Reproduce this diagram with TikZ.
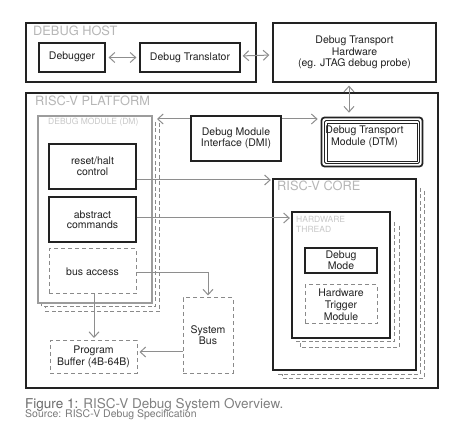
\documentclass[tikz,border=0pt]{standalone}
\usepackage{fontspec}
\setmainfont{TeX Gyre Heros}
\usetikzlibrary{arrows.meta}
\definecolor{ink}{HTML}{222222}
\definecolor{arr}{HTML}{8E8E8E}
\definecolor{lbl}{HTML}{B6B6B6}
\definecolor{lbl2}{HTML}{C8C8C8}
\definecolor{dsh}{HTML}{8A8A8A}
\definecolor{dmgray}{HTML}{9C9C9C}
\definecolor{capdark}{HTML}{6A6A6A}
\definecolor{caplight}{HTML}{808080}
\definecolor{capsrc}{HTML}{7A7A7A}
\begin{document}
\begin{tikzpicture}[x=1pt,y=-1pt,
  box/.style={draw=ink,line width=1.2pt,fill=white,text=ink,align=center,inner sep=0pt,
    font=\fontsize{10.5}{11.5}\selectfont},
  dbox/.style={box,draw=dsh,line width=1pt,dash pattern=on 4pt off 3pt},
  cont/.style={draw=ink,line width=1.4pt,fill=white,inner sep=0pt},
  ghost/.style={draw=dsh,line width=0.9pt,dash pattern=on 4pt off 2.5pt},
  conn/.style={draw=arr,line width=1pt,-{Straight Barb[length=5.5pt,width=10pt]}},
  biconn/.style={draw=arr,line width=1pt,{Straight Barb[length=5.5pt,width=10pt]}-{Straight Barb[length=5.5pt,width=10pt]}},
  biglbl/.style={text=lbl,font=\fontsize{12.8}{13}\selectfont,anchor=base west,inner sep=0pt},
  smllbl/.style={text=lbl2,font=\fontsize{8.5}{9.5}\selectfont,anchor=base west,inner sep=0pt},
]
\useasboundingbox (0,0) rectangle (474,438);

% ---------- Debug host ----------
\node[cont,minimum width=230,minimum height=59] (host) at (141,52.5) {};
\node[biglbl] (hostl) at (33,36) {DEBUG HOST};
\node[box,minimum width=66,minimum height=29] (dbg) at (72,57.5) {\raisebox{3pt}{Debugger}};
\node[box,minimum width=100,minimum height=29] (trans) at (190,57.5) {Debug Translator};
\node[box,minimum width=163,minimum height=59] (dth) at (354.5,52.5) {Debug Transport\\Hardware\\(eg. JTAG debug probe)};

% ---------- Platform ----------
\node[cont,minimum width=412,minimum height=295] (plat) at (232,240.5) {};
\node[biglbl] (platl) at (35,106) {RISC-V PLATFORM};

% Debug module ghosts
\draw[ghost] (155.7,122) -- (155.7,306.7) -- (41.7,306.7) -- (41.7,303);
\draw[ghost] (159.3,123) -- (159.3,311.7) -- (45.7,311.7) -- (45.7,306.7);
\node[cont,draw=dmgray,line width=1.2pt,minimum width=114,minimum height=187] (dm) at (95,209.5) {};
\node[smllbl] (dml) at (48,125) {DEBUG MODULE (DM)};

\node[box,minimum width=87,minimum height=45] (rh) at (92.5,166.5) {reset/halt\\control};
\node[box,minimum width=87,minimum height=45,font=\fontsize{10.5}{10}\selectfont] (ac) at (92.5,219.5) {abstract\\commands};
\node[dbox,minimum width=87,minimum height=45] (ba) at (92.5,271.5) {bus access};

\node[box,minimum width=90,minimum height=45] (dmi) at (236,138.5) {Debug Module\\Interface (DMI)};

% DTM with triple border
\node[draw=ink,line width=1.7pt,fill=white,rounded corners=3pt,minimum width=101,minimum height=49,inner sep=0pt] (dtm) at (372,142) {};
\draw[ink,line width=0.9pt,rounded corners=1.5pt] (324.5,120.5) rectangle (419.5,163.5);
\draw[ink,line width=0.8pt] (327,123) rectangle (417,161);
\node[text=ink,align=center,inner sep=0pt,font=\fontsize{10.5}{12}\selectfont] (dtmt) at (364.5,136.5) {Debug Transport\\Module (DTM)};

% RISC-V core ghosts
\draw[ghost] (420.7,188) -- (420.7,374) -- (278,374) -- (278,370);
\draw[ghost] (424.5,191) -- (424.5,378) -- (282,378) -- (282,374);
\node[cont,minimum width=143,minimum height=191] (core) at (344.5,274.5) {};
\node[biglbl] (corel) at (277,191) {RISC-V CORE};

% Hardware thread ghosts
\draw[ghost] (394.7,222) -- (394.7,341.5) -- (295.5,341.5) -- (295.5,338);
\draw[ghost] (399,226) -- (399,347.5) -- (300,347.5) -- (300,341.5);
\node[cont,line width=1.3pt,minimum width=98,minimum height=126] (hart) at (341,275) {};
\node[smllbl] (hartl1) at (296,223) {HARDWARE};
\node[smllbl] (hartl2) at (296,232.5) {THREAD};
\node[box,minimum width=72,minimum height=25,font=\fontsize{10.5}{11}\selectfont] (dmode) at (341,260.5) {Debug\\Mode};
\node[dbox,minimum width=72,minimum height=39,font=\fontsize{10.5}{12}\selectfont] (htm) at (341,304.5) {Hardware\\Trigger\\Module};

% System bus and program buffer
\node[dbox,minimum width=50,minimum height=75,font=\fontsize{10.5}{9.5}\selectfont] (sysbus) at (208,335.5) {System\\Bus};
\node[dbox,minimum width=87,minimum height=32,font=\fontsize{10.5}{12.5}\selectfont] (pbuf) at (93.5,357) {Program\\Buffer (4B-64B)};

% ---------- Connectors ----------
\draw[biconn,shorten <=3pt,shorten >=3pt] (dbg) -- (trans);
\draw[biconn,shorten <=2pt,shorten >=3pt] (trans) -- (dth);
\draw[biconn,shorten <=3pt,shorten >=4pt] (dth.south -| 349,0) -- (dtm.north -| 349,0);
\coordinate (dmin) at (157,119);
\draw[conn] (dmi.west |- 0,119) -- (dmin);
\draw[conn,shorten >=3pt] (dmi.east |- 0,119) -- (dtm.west |- 0,119);
\draw[conn,shorten >=1.5pt] (rh.east |- 0,180) -- (core.west |- 0,180);
\draw[conn,shorten >=1.5pt] (ac.east |- 0,218) -- (hart.west |- 0,218);
\draw[conn,shorten >=2pt] (ba.east |- 0,273) -| (sysbus.north);
\draw[conn,shorten >=2.5pt] (ba.south -| 94,0) -- (pbuf.north -| 94,0);
\draw[conn,shorten >=2pt] (sysbus.west |- 0,352) -- (pbuf.east |- 0,352);

% ---------- Caption ----------
\node[anchor=base west,inner sep=0pt,font=\fontsize{13.5}{14}\selectfont] (cap) at (25,408)
  {\textcolor{capdark}{Figure 1:} \textcolor{caplight}{RISC-V Debug System Overview.}};
\node[anchor=base west,inner sep=0pt,text=capsrc,font=\fontsize{10.5}{10.5}\selectfont] (src) at (25,417.5)
  {Source: RISC-V Debug Specification};
\end{tikzpicture}
\end{document}
